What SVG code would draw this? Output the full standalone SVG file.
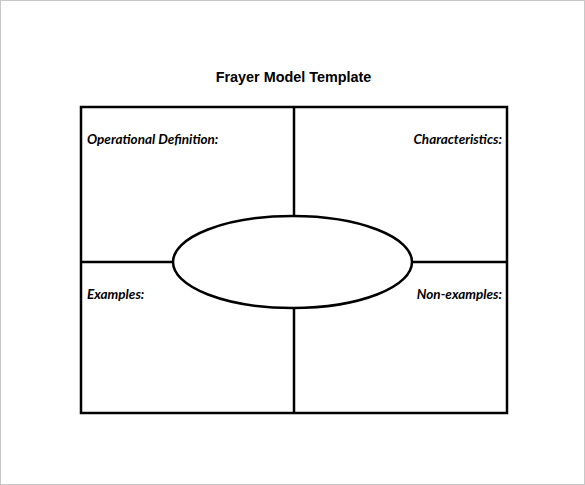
<svg xmlns="http://www.w3.org/2000/svg" width="585" height="485" viewBox="0 0 585 485">
<style>
.ln{stroke:#000;stroke-width:2.5;fill:none}
.lbl{font-family:"Lato","Liberation Sans",sans-serif;font-weight:bold;font-style:italic;font-size:13.5px;fill:#000}
.title{font-family:"Liberation Sans",Arial,sans-serif;font-weight:bold;font-size:14.4px;fill:#000}
</style>
<rect x="0.5" y="0.5" width="584" height="484" fill="#fff" stroke="#c8c8c8" stroke-width="1"/>
<text class="title" x="293.5" y="82" text-anchor="middle">Frayer Model Template</text>
<g id="connectors">
<line class="ln" x1="294" y1="107" x2="294" y2="216"/>
<line class="ln" x1="294" y1="308" x2="294" y2="413"/>
<line class="ln" x1="81" y1="262" x2="173" y2="262"/>
<line class="ln" x1="412" y1="262" x2="507" y2="262"/>
</g>
<g id="frame">
<rect class="ln" x="81" y="107" width="426" height="306"/>
</g>
<g id="center">
<ellipse class="ln" cx="292.5" cy="262" rx="119.5" ry="46" fill="#fff"/>
</g>
<g id="definition"><text class="lbl" x="87" y="144">Operational Definition:</text></g>
<g id="characteristics"><text class="lbl" x="502" y="144" text-anchor="end">Characteristics:</text></g>
<g id="examples"><text class="lbl" x="87" y="299">Examples:</text></g>
<g id="nonexamples"><text class="lbl" x="502" y="299" text-anchor="end">Non-examples:</text></g>
</svg>
